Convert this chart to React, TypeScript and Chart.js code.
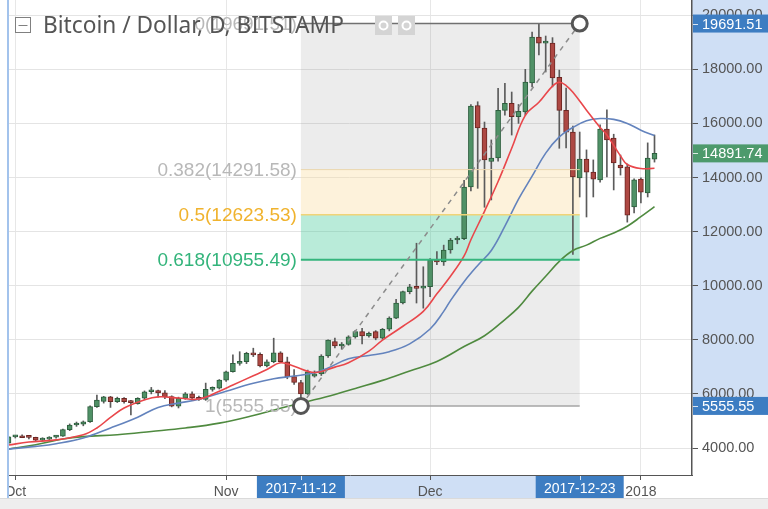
import React, { useEffect, useRef } from 'react';
import { Chart, registerables } from 'chart.js';

Chart.register(...registerables);

// Day offsets are counted from 2017-10-01 (day 0). First candle is 2017-09-30.
const FIRST_DAY = -1;

const opens = [
  4180, 4410, 4440, 4430, 4390, 4290, 4330, 4400, 4440, 4680, 4850, 4880, 4970, 5530, 5720, 5890,
  5710, 5840, 5710, 5640, 5840, 6080, 6120, 6040, 5900, 5550, 5840, 6000, 5850, 5800, 6170, 6210,
  6510, 6820, 7130, 7190, 7500, 7460, 7030, 7190, 7520, 7190, 6640, 6420, 6000, 6660, 6740, 7400,
  7930, 7770, 7830, 8110, 8300, 8140, 8300, 8060, 8390, 8800, 9360, 9780, 9960, 9910, 9960, 10950,
  10880, 11320, 11690, 11740, 13650, 16660, 15830, 14590, 14720, 16480, 16740, 16250, 16420, 17500, 19190, 18970,
  18970, 17700, 16480, 15680, 13980, 14680, 14200, 13910, 15790, 15460, 14460, 14390, 12910, 13940, 13430, 14680,
];
const highs = [
  4430, 4470, 4490, 4460, 4400, 4380, 4420, 4470, 4700, 4890, 4960, 5000, 5560, 5960, 5910, 5910,
  5880, 5860, 5760, 5860, 6110, 6240, 6140, 6120, 5930, 5880, 6050, 6080, 5920, 6400, 6260, 6530,
  6840, 7440, 7560, 7540, 7690, 7520, 7260, 8060, 7560, 7360, 6900, 6500, 6880, 6850, 7450, 8000,
  8060, 7900, 8150, 8350, 8420, 8290, 8340, 8420, 8850, 9500, 9800, 10050, 11570, 10700, 11000, 11260,
  11500, 11750, 11820, 13900, 16700, 16800, 16050, 15390, 17300, 17480, 17160, 16700, 18000, 19380, 19691.51, 19230,
  19170, 17970, 17310, 15900, 15680, 15020, 14650, 15950, 16500, 15600, 14830, 14500, 13950, 13990, 15280, 15570,
];
const lows = [
  4160, 4370, 4400, 4340, 4250, 4260, 4310, 4360, 4430, 4640, 4800, 4820, 4950, 5500, 5660, 5500,
  5680, 5660, 5220, 5620, 5780, 6000, 5880, 5820, 5520, 5480, 5800, 5820, 5760, 5760, 6100, 6180,
  6460, 6800, 7060, 7120, 7380, 7000, 7000, 7150, 7150, 6560, 6350, 5555.55, 5980, 6620, 6680, 7350,
  7700, 7650, 7800, 8060, 7850, 8100, 8000, 8020, 8330, 8780, 9330, 9700, 9360, 9170, 9590, 10780,
  10750, 11200, 11550, 11700, 13500, 13600, 12900, 13170, 14600, 16300, 15570, 16000, 16300, 17350, 18530, 17900,
  17350, 15080, 15090, 11159, 13280, 12540, 13280, 13830, 14020, 13540, 14090, 12350, 12690, 13060, 13280, 14570,
];
const closes = [
  4410, 4470, 4380, 4390, 4290, 4340, 4400, 4450, 4680, 4850, 4910, 4970, 5530, 5770, 5890, 5710,
  5840, 5710, 5680, 5840, 6080, 6150, 6040, 5900, 5550, 5840, 6000, 5850, 5800, 6170, 6230, 6510,
  6820, 7130, 7190, 7500, 7440, 7030, 7190, 7520, 7190, 6640, 6420, 6000, 6820, 6740, 7400, 7990,
  7770, 7840, 8110, 8300, 8140, 8240, 8060, 8390, 8800, 9360, 9780, 9960, 9900, 9980, 10950, 10880,
  11320, 11690, 11760, 13650, 16640, 15830, 14650, 14720, 16480, 16740, 16250, 16450, 17530, 19190, 18970, 19020,
  17680, 16480, 15680, 14020, 14680, 14200, 13940, 15790, 15390, 14540, 14350, 12610, 13910, 13460, 14720, 14891.74,
];

// Moving averages (day offset, value)
const emaFastDays = [-1, 2, 6, 10, 12, 14, 16, 19, 21, 24, 27, 30, 32, 35, 37, 39, 41, 44, 47, 49, 52, 54, 57, 60, 62, 64, 66, 67, 69, 71, 73, 75, 77, 79, 80, 81, 82, 84, 86, 87, 89, 90, 92, 94];
const emaFastValues = [4110, 4220, 4300, 4490, 4740, 5130, 5480, 5780, 5890, 5850, 5810, 6100, 6330, 6670, 6900, 7150, 7020, 6790, 6990, 7150, 7580, 7990, 8500, 9050, 9700, 10350, 11100, 11700, 12750, 13850, 15080, 16300, 16780, 17380, 17520, 17400, 17150, 16490, 15850, 15570, 14800, 14480, 14330, 14340];

const emaMidDays = [-1, 3, 6, 10, 14, 18, 21, 24, 27, 31, 35, 38, 41, 44, 46, 49, 52, 55, 58, 61, 63, 64, 66, 68, 70, 72, 74, 76, 78, 80, 82, 84, 86, 88, 90, 92, 94];
const emaMidValues = [3960, 4060, 4160, 4370, 4740, 5140, 5500, 5660, 5800, 6100, 6390, 6560, 6660, 6780, 6960, 7300, 7420, 7560, 7850, 8400, 9050, 9450, 10150, 10750, 11300, 12200, 13200, 14050, 14900, 15500, 15850, 16100, 16180, 16150, 16000, 15750, 15550];

const maSlowDays = [-1, 3, 7, 10, 15, 20, 25, 30, 35, 39, 43, 47, 50, 54, 58, 62, 66, 69, 72, 74, 76, 78, 80, 82, 84, 86, 88, 90, 92, 94];
const maSlowValues = [3960, 4120, 4330, 4420, 4490, 4610, 4740, 4920, 5200, 5470, 5720, 5980, 6200, 6500, 6850, 7200, 7750, 8150, 8750, 9200, 9800, 10350, 10900, 11300, 11500, 11750, 11950, 12200, 12550, 12920];

// Fibonacci retracement
const fibRatios = [0, 0.382, 0.5, 0.618, 1];
const fibPrices = [19691.51, 14291.58, 12623.53, 10955.49, 5555.55];
const fibStartDay = 42; // 2017-11-12
const fibEndDay = 83; // 2017-12-23
const fibStartLabel = '2017-11-12';
const fibEndLabel = '2017-12-23';
const lastPrice = 14891.74;

const yTicks = [4000, 6000, 8000, 10000, 12000, 14000, 16000, 18000, 20000];
const xTickDays = [0, 31, 61, 92];
const xTickLabels = ['Oct', 'Nov', 'Dec', '2018'];
const titleText = 'Bitcoin / Dollar, D, BITSTAMP';

const FONT = '"Liberation Sans", Arial, sans-serif';
const UP_FILL = '#4f9166';
const UP_BORDER = '#2c5e3d';
const DOWN_FILL = '#ad4843';
const DOWN_BORDER = '#6c2622';

const overlay = {
  id: 'overlay',
  beforeDraw(chart: any) {
    const { ctx, chartArea: a, scales, width, height } = chart;
    const x = scales.x, y = scales.y;
    ctx.save();
    ctx.fillStyle = '#ffffff';
    ctx.fillRect(0, 0, width, height);
    ctx.fillStyle = '#cfdff5';
    ctx.fillRect(a.right, 0, width - a.right, y.getPixelForValue(fibPrices[4]));
    const xs = x.getPixelForValue(fibStartDay), xe = x.getPixelForValue(fibEndDay);
    ctx.fillRect(xs, a.bottom, xe - xs, 498 - a.bottom);
    ctx.fillStyle = '#eeeeee';
    ctx.fillRect(0, 499, width, height - 499);
    ctx.fillStyle = '#dadada';
    ctx.fillRect(0, 498, width, 1);
    ctx.restore();
  },
  beforeDatasetsDraw(chart: any) {
    const { ctx, chartArea: a, scales } = chart;
    const x = scales.x, y = scales.y;
    const xs = x.getPixelForValue(fibStartDay), xe = x.getPixelForValue(fibEndDay);
    const py = fibPrices.map((p) => y.getPixelForValue(p));
    ctx.save();
    ctx.beginPath();
    ctx.rect(a.left, a.top, a.right - a.left, a.bottom - a.top);
    ctx.clip();
    ctx.fillStyle = 'rgba(128,128,128,0.15)';
    ctx.fillRect(xs, py[0], xe - xs, py[1] - py[0]);
    ctx.fillRect(xs, py[3], xe - xs, py[4] - py[3]);
    ctx.fillStyle = 'rgba(250,222,160,0.38)';
    ctx.fillRect(xs, py[1], xe - xs, py[2] - py[1]);
    ctx.fillStyle = 'rgba(60,200,150,0.36)';
    ctx.fillRect(xs, py[2], xe - xs, py[3] - py[2]);
    ctx.restore();
  },
  afterDatasetsDraw(chart: any) {
    const { ctx, scales } = chart;
    const x = scales.x, y = scales.y;
    const xs = x.getPixelForValue(fibStartDay), xe = x.getPixelForValue(fibEndDay);
    const py = fibPrices.map((p) => y.getPixelForValue(p));
    ctx.save();
    const lineColors = ['#707070', '#ead6ad', '#f1d477', '#35b57d', '#a5a5a5'];
    const lineWidths = [1.5, 1, 1.5, 2, 1.5];
    fibPrices.forEach((_, i) => {
      ctx.strokeStyle = lineColors[i];
      ctx.lineWidth = lineWidths[i];
      ctx.beginPath();
      ctx.moveTo(xs, py[i]);
      ctx.lineTo(xe, py[i]);
      ctx.stroke();
    });
    ctx.setLineDash([5, 5]);
    ctx.strokeStyle = '#8c8c8c';
    ctx.lineWidth = 1.5;
    ctx.beginPath();
    ctx.moveTo(xs, py[4]);
    ctx.lineTo(xe, py[0]);
    ctx.stroke();
    ctx.setLineDash([]);

    ctx.font = `19px ${FONT}`;
    ctx.textAlign = 'right';
    ctx.textBaseline = 'middle';
    const labelColors = ['#b8b8b8', '#b8b8b8', '#f0b32e', '#33b47b', '#b8b8b8'];
    fibRatios.forEach((r, i) => {
      ctx.fillStyle = labelColors[i];
      ctx.fillText(`${r}(${fibPrices[i].toFixed(2)})`, xs - 4, py[i] + 1);
    });

    [[xs, py[4]], [xe, py[0]]].forEach(([cx, cy]) => {
      ctx.beginPath();
      ctx.arc(cx, cy, 7.5, 0, Math.PI * 2);
      ctx.fillStyle = '#ffffff';
      ctx.fill();
      ctx.lineWidth = 3;
      ctx.strokeStyle = '#555555';
      ctx.stroke();
    });
    ctx.restore();
  },
  afterDraw(chart: any) {
    const { ctx, chartArea: a, scales, width } = chart;
    const x = scales.x, y = scales.y;
    ctx.save();
    // title
    let fs = 20;
    ctx.font = `${fs}px "Noto Sans", sans-serif`;
    const w = ctx.measureText(titleText).width;
    fs = (fs * 301) / w;
    ctx.font = `${fs}px "Noto Sans", sans-serif`;
    ctx.fillStyle = '#555555';
    ctx.textAlign = 'left';
    ctx.textBaseline = 'alphabetic';
    ctx.fillText(titleText, 43, 33);
    // collapse box
    ctx.strokeStyle = '#808080';
    ctx.lineWidth = 1;
    ctx.strokeRect(15.5, 17.5, 15, 15);
    ctx.beginPath();
    ctx.moveTo(18.5, 25.5);
    ctx.lineTo(27.5, 25.5);
    ctx.stroke();
    // icon boxes
    [375, 398].forEach((bx) => {
      ctx.fillStyle = '#d4d4d4';
      ctx.fillRect(bx, 16, 17, 19);
      ctx.strokeStyle = '#ffffff';
      ctx.lineWidth = 2;
      ctx.beginPath();
      ctx.arc(bx + 8.5, 25.5, 4, 0, Math.PI * 2);
      ctx.stroke();
    });

    // y axis price boxes
    const yBox = (val: number, bg: string) => {
      const cy = y.getPixelForValue(val);
      ctx.fillStyle = bg;
      ctx.fillRect(a.right + 1, cy - 9, width - a.right - 1, 18);
      ctx.strokeStyle = 'rgba(255,255,255,0.8)';
      ctx.lineWidth = 1;
      ctx.beginPath();
      ctx.moveTo(a.right + 1, Math.round(cy) + 0.5);
      ctx.lineTo(a.right + 6, Math.round(cy) + 0.5);
      ctx.stroke();
      ctx.fillStyle = '#ffffff';
      ctx.font = `14.5px ${FONT}`;
      ctx.textAlign = 'left';
      ctx.textBaseline = 'middle';
      ctx.fillText(val.toFixed(2), a.right + 10, cy + 1);
    };
    yBox(fibPrices[0], '#3d7dc2');
    yBox(lastPrice, '#4d9a6c');
    yBox(fibPrices[4], '#3d7dc2');

    // x axis date boxes
    const xBox = (day: number, label: string) => {
      const cx = x.getPixelForValue(day);
      ctx.fillStyle = '#3d7dc2';
      ctx.fillRect(cx - 44, a.bottom + 1, 88, 22);
      ctx.strokeStyle = 'rgba(255,255,255,0.8)';
      ctx.beginPath();
      ctx.moveTo(Math.round(cx) + 0.5, a.bottom + 1);
      ctx.lineTo(Math.round(cx) + 0.5, a.bottom + 5);
      ctx.stroke();
      ctx.fillStyle = '#ffffff';
      ctx.font = `14px ${FONT}`;
      ctx.textAlign = 'center';
      ctx.textBaseline = 'middle';
      ctx.fillText(label, cx, a.bottom + 14);
    };
    xBox(fibStartDay, fibStartLabel);
    xBox(fibEndDay, fibEndLabel);

    // left panel edge
    ctx.fillStyle = '#ffffff';
    ctx.fillRect(0, a.bottom + 1, 8, 497 - a.bottom);
    ctx.fillStyle = '#a3c3ec';
    ctx.fillRect(7, 0, 2, 498);
    ctx.restore();
  },
};

export default function App() {
  const ref = useRef<HTMLCanvasElement | null>(null);
  useEffect(() => {
    if (!ref.current) return;
    const candleX = opens.map((_, i) => FIRST_DAY + i);
    const isUp = opens.map((o, i) => closes[i] >= o);
    const chart = new Chart(ref.current, {
      type: 'bar',
      data: {
        datasets: [
          {
            type: 'line',
            label: 'EMA fast',
            data: emaFastDays.map((d, i) => ({ x: d, y: emaFastValues[i] })),
            borderColor: '#e9474b',
            borderWidth: 1.6,
            pointRadius: 0,
            tension: 0.4,
            order: 0,
          } as any,
          {
            type: 'line',
            label: 'EMA mid',
            data: emaMidDays.map((d, i) => ({ x: d, y: emaMidValues[i] })),
            borderColor: '#6383bd',
            borderWidth: 1.6,
            pointRadius: 0,
            tension: 0.4,
            order: 0,
          } as any,
          {
            type: 'line',
            label: 'MA slow',
            data: maSlowDays.map((d, i) => ({ x: d, y: maSlowValues[i] })),
            borderColor: '#4f8a3f',
            borderWidth: 1.6,
            pointRadius: 0,
            tension: 0.4,
            order: 0,
          } as any,
          {
            type: 'bar',
            label: 'body',
            data: candleX.map((d, i) => ({ x: d, y: [opens[i], closes[i]] })),
            backgroundColor: isUp.map((u) => (u ? UP_FILL : DOWN_FILL)),
            borderColor: isUp.map((u) => (u ? UP_BORDER : DOWN_BORDER)),
            borderWidth: 1,
            borderSkipped: false,
            barThickness: 5,
            minBarLength: 2,
            grouped: false,
            order: 1,
          } as any,
          {
            type: 'bar',
            label: 'wick',
            data: candleX.map((d, i) => ({ x: d, y: [lows[i], highs[i]] })),
            backgroundColor: '#5b5b5b',
            borderWidth: 0,
            barThickness: 1,
            grouped: false,
            order: 2,
          } as any,
        ],
      },
      options: {
        responsive: false,
        animation: false,
        layout: { padding: { left: 8, top: 0, right: 0, bottom: 0 } },
        plugins: { legend: { display: false }, tooltip: { enabled: false }, title: { display: false } },
        scales: {
          x: {
            type: 'linear',
            min: (8 - 15.3) / 6.8,
            max: (692 - 15.3) / 6.8,
            offset: false,
            grid: { color: '#e7e7e7', offset: false, tickLength: 5, tickColor: '#555555' },
            border: { color: '#555555', width: 1 },
            ticks: {
              autoSkip: false,
              maxRotation: 0,
              color: '#555555',
              font: { size: 14, family: FONT },
              padding: 4,
              callback: (v: any) => {
                const idx = xTickDays.indexOf(Number(v));
                return idx >= 0 ? xTickLabels[idx] : '';
              },
            },
            afterBuildTicks: (s: any) => {
              s.ticks = xTickDays.map((v) => ({ value: v }));
            },
            afterFit: (s: any) => {
              s.height = 34;
              s.paddingLeft = 0;
              s.paddingRight = 0;
            },
          } as any,
          y: {
            type: 'linear',
            position: 'right',
            min: 4000 - 27 / 0.02705,
            max: 4000 + 448 / 0.02705,
            grid: { color: '#e4e4e4', tickLength: 6, tickColor: '#555555' },
            border: { color: '#555555', width: 1.5 },
            ticks: {
              color: '#555555',
              font: { size: 14.5, family: FONT },
              padding: 4,
              callback: (v: any) => Number(v).toFixed(2),
            },
            afterBuildTicks: (s: any) => {
              s.ticks = yTicks.map((v) => ({ value: v }));
            },
            afterFit: (s: any) => {
              s.width = 76;
              s.paddingTop = 0;
              s.paddingBottom = 0;
            },
          } as any,
        },
      },
      plugins: [overlay as any],
    });
    return () => chart.destroy();
  }, []);

  return (
    <div style={{ position: 'fixed', left: 0, top: 0, width: 768, height: 509, background: '#fff' }}>
      <canvas ref={ref} width={768} height={509} style={{ display: 'block' }} />
    </div>
  );
}
